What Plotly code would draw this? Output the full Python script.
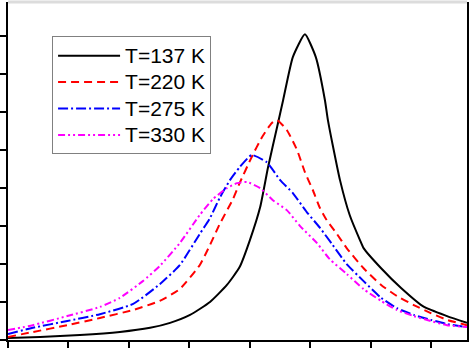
import plotly.graph_objects as go

# x: arbitrary units (tick every 1), y: arbitrary units (tick every 1)
x_137 = [0, 0.53, 1.19, 1.85, 2.35, 2.68, 3.01, 3.34, 3.62, 3.83, 4.00, 4.17, 4.30, 4.45, 4.55,
         4.71, 4.91, 5.09, 5.24, 5.29, 5.37, 5.49, 5.65, 5.82, 5.88, 6.17, 6.50, 6.88, 7.26, 7.59]
y_137 = [0.05, 0.08, 0.13, 0.21, 0.32, 0.45, 0.66, 1.00, 1.45, 1.92, 2.63, 3.50, 4.55, 5.61, 6.32,
         7.45, 8.05, 7.45, 6.32, 5.79, 5.13, 4.21, 3.29, 2.63, 2.42, 1.89, 1.37, 0.87, 0.63, 0.45]

x_220 = [0, 0.41, 0.98, 1.52, 2.07, 2.51, 2.84, 3.17, 3.34, 3.50, 3.72, 3.83, 4.03, 4.20, 4.36,
         4.45, 4.61, 4.78, 4.91, 5.04, 5.16, 5.27, 5.44, 5.60, 5.88, 6.17, 6.43, 6.71, 6.99, 7.26, 7.59]
y_220 = [0.08, 0.21, 0.39, 0.58, 0.79, 1.03, 1.34, 1.97, 2.50, 3.05, 3.71, 4.13, 4.82, 5.34, 5.71,
         5.79, 5.53, 5.00, 4.42, 3.95, 3.47, 3.16, 2.79, 2.42, 1.89, 1.45, 1.16, 0.92, 0.71, 0.53, 0.39]

x_275 = [0, 0.41, 0.98, 1.52, 2.07, 2.51, 2.84, 3.17, 3.34, 3.50, 3.67, 3.83, 4.03, 4.28, 4.50,
         4.71, 4.94, 5.16, 5.37, 5.60, 5.88, 6.17, 6.43, 6.71, 6.99, 7.26, 7.59]
y_275 = [0.16, 0.32, 0.50, 0.68, 0.95, 1.47, 1.97, 2.79, 3.21, 3.74, 4.21, 4.55, 4.87, 4.68, 4.21,
         3.87, 3.37, 2.95, 2.50, 2.00, 1.55, 1.11, 0.84, 0.66, 0.53, 0.42, 0.34]

x_330 = [0, 0.41, 0.98, 1.52, 1.85, 2.23, 2.51, 2.84, 3.17, 3.39, 3.62, 3.79, 3.95, 4.17, 4.38,
         4.61, 4.83, 5.11, 5.32, 5.60, 5.88, 6.17, 6.43, 6.71, 6.99, 7.26, 7.59]
y_330 = [0.26, 0.39, 0.63, 0.87, 1.11, 1.55, 1.95, 2.55, 3.29, 3.71, 4.00, 4.13, 4.16, 4.00, 3.68,
         3.42, 3.00, 2.55, 2.13, 1.74, 1.34, 1.03, 0.79, 0.63, 0.50, 0.39, 0.34]

names = ["T=137 K", "T=220 K", "T=275 K", "T=330 K"]
colors = ["#000000", "#FF0000", "#0000FF", "#FF00FF"]
dashes = ["solid", "8px,5px", "10px,3px,2px,3px", "7px,3px,2px,3px,2px,3px"]

fig = go.Figure()
for xs, ys, nm, c, d in zip([x_137, x_220, x_275, x_330], [y_137, y_220, y_275, y_330],
                            names, colors, dashes):
    fig.add_trace(go.Scatter(x=xs, y=ys, mode="lines",
                             name='<span style="font-size:21px">' + nm + '</span>',
                             line=dict(color=c, width=2, dash=d, shape="spline", smoothing=0.5)))

fig.update_layout(
    width=474, height=348,
    margin=dict(l=8, r=7, t=2, b=8, autoexpand=False),
    paper_bgcolor="white", plot_bgcolor="white",
    font=dict(family="Liberation Sans, Arial, sans-serif", color="black"),
    showlegend=True,
    legend=dict(x=0.096, y=0.898, xanchor="left", yanchor="top",
                bordercolor="#808080", borderwidth=1, bgcolor="white",
                font=dict(size=18), itemwidth=62, tracegroupgap=0),
)
fig.update_xaxes(range=[0, 7.59], showgrid=False, zeroline=False, showticklabels=False,
                 automargin=False,
                 showline=True, linecolor="black", linewidth=1.5,
                 ticks="outside", ticklen=8, tickwidth=1.5, tickcolor="black", dtick=2, tick0=0,
                 minor=dict(ticks="outside", ticklen=6, tickwidth=1.5, tickcolor="black", dtick=1))
fig.update_yaxes(range=[0, 8.9], showgrid=False, zeroline=False, showticklabels=False,
                 automargin=False,
                 showline=True, linecolor="black", linewidth=1.5, mirror=True,
                 ticks="outside", ticklen=8, tickwidth=1.5, tickcolor="black", dtick=2, tick0=0,
                 minor=dict(ticks="outside", ticklen=6, tickwidth=1.5, tickcolor="black", dtick=1))
fig.add_shape(type="line", xref="paper", yref="paper", x0=0, x1=1, y0=1, y1=1,
              line=dict(color="#dcdcdc", width=3))
fig.write_html("out.html")
